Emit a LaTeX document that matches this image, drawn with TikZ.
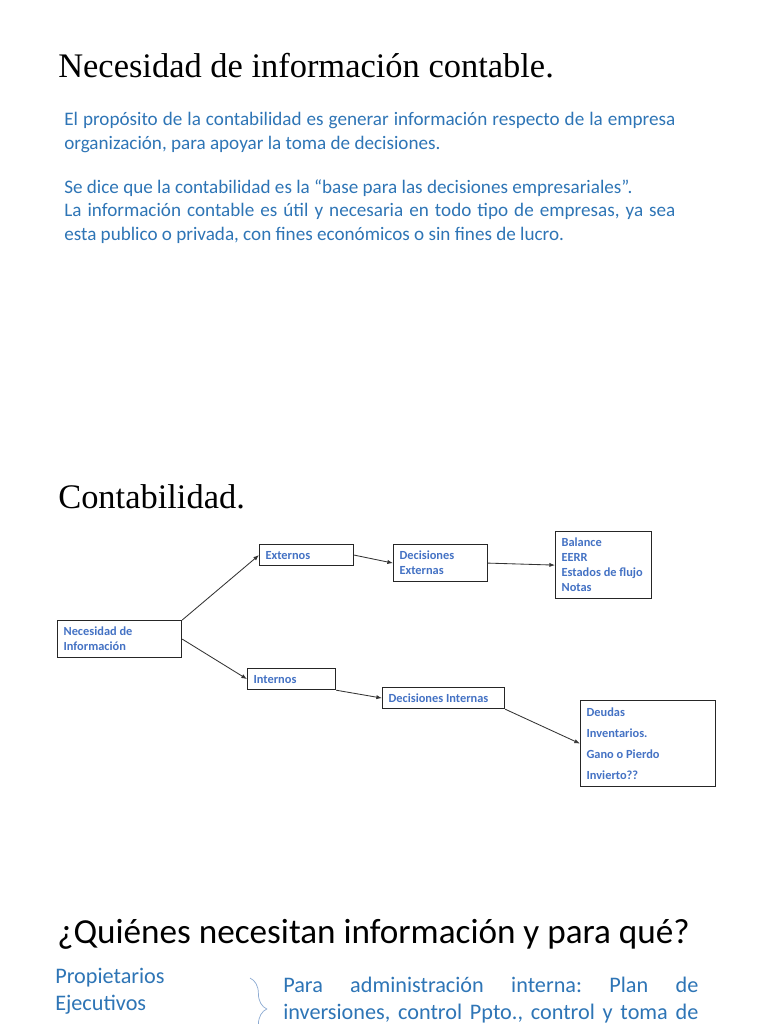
\documentclass[tikz,border=0pt]{standalone}
\usepackage{fontspec}
\setmainfont{Liberation Serif}
\newfontfamily\calibri{Carlito}
\usetikzlibrary{arrows.meta,positioning,decorations.pathreplacing}
\definecolor{azul}{RGB}{46,117,182}
\definecolor{azulcaja}{RGB}{68,114,196}
\definecolor{llave}{RGB}{140,170,210}
\tikzset{
  >={Latex[length=4pt,width=3pt]},
  espacio/.style={execute at begin node={\frenchspacing\spaceskip=0pt\xspaceskip=0pt}},
  titulo/.style={anchor=base west,inner sep=0pt,font=\fontsize{24.5}{29}\selectfont},
  parrafo/.style={espacio,anchor=north west,inner sep=0pt,text=azul,align=justify,
    text width=15.275cm,font=\calibri\fontsize{13.6}{17}\selectfont},
  caja/.style={espacio,draw=black!85,line width=0.85pt,anchor=north west,inner xsep=0.15cm,
    inner ysep=0pt,align=left,text=azulcaja,font=\calibri\bfseries\fontsize{8.8}{10.7}\selectfont},
  flecha/.style={->,line width=0.6pt,draw=black!80},
  % ultima diapositiva
  lista/.style={espacio,anchor=north west,inner sep=0pt,text=azul,align=left,
    font=\calibri\fontsize{15.8}{19.2}\selectfont},
}

\begin{document}
\begin{tikzpicture}[x=0.025cm,y=-0.025cm]
  \clip (0,0) rectangle (768,1024);
  \fill[white] (0,0) rectangle (768,1024);

  \node[titulo] (t1) at (58,78) {Necesidad de información contable.};
  \node[parrafo] (p1) at (64,112) {%
    \makebox[15.275cm][s]{El propósito de la contabilidad es generar información respecto de la empresa}\\
    organización, para apoyar la toma de decisiones.};
  \node[parrafo] (p2) at (64,179) {%
    Se dice que la contabilidad es la “base para las decisiones empresariales”.\\
    \makebox[15.275cm][s]{La información contable es útil y necesaria en todo tipo de empresas, ya sea}\\
    esta publico o privada, con fines económicos o sin fines de lucro.};

  \node[titulo] (t2) at (58,508) {Contabilidad.};
  \node[caja,text width=2.8cm,minimum height=0.925cm] (nec) at (57,620) {Necesidad de\\Información};
  \node[caja,text width=2.05cm,minimum height=0.525cm] (ext) at (259,544) {Externos};
  \node[caja,text width=2.05cm,minimum height=0.925cm] (decext) at (393,544) {Decisiones\\Externas};
  \node[caja,text width=2.1cm,minimum height=1.675cm] (bal) at (555,531) {Balance\\EERR\\Estados de flujo\\Notas};
  \node[caja,text width=1.9cm,minimum height=0.525cm] (int) at (247,668) {Internos};
  \node[caja,text width=2.75cm,minimum height=0.525cm] (decint) at (382,687) {Decisiones Internas};
  \node[caja,text width=3.075cm,minimum height=2.15cm,
    font=\calibri\bfseries\fontsize{8.8}{15}\selectfont] (deu) at (580,700)
    {Deudas\\Inventarios.\\Gano o Pierdo\\Invierto??};

  \draw[flecha] (nec.north east) -- (ext.west);
  \draw[flecha] (ext.east) -- (decext.west);
  \draw[flecha] (decext.east) -- (bal.west);
  \draw[flecha] (nec.east) -- (int.west);
  \draw[flecha] (int.south east) -- (decint.west);
  \draw[flecha] (decint.south east) -- (deu.west);

  \node[titulo,font=\calibri\fontsize{25}{30}\selectfont] (t3) at (57,943) {¿Quiénes necesitan información y para qué?};
  \node[lista] (quien) at (55,968) {Propietarios\\Ejecutivos};
  \coordinate (llsup) at (250,978);
  \coordinate (llinf) at (250,1040);
  \draw[llave,line width=0.5pt,decorate,decoration={brace,amplitude=0.42cm}] (llsup) -- (llinf);
  \node[lista,text width=10.375cm] (para) at (283,977) {%
    \makebox[10.375cm][s]{Para administración interna: Plan de}\\
    \makebox[10.375cm][s]{inversiones, control Ppto., control y toma de}};
\end{tikzpicture}
\end{document}
